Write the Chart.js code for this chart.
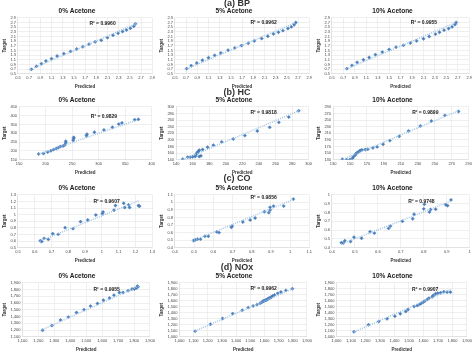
<!DOCTYPE html>
<html>
<head>
<meta charset="utf-8">
<script src="https://cdn.jsdelivr.net/npm/chart.js@4.4.0/dist/chart.umd.min.js"></script>
<style>
    body { margin: 0; width: 474px; height: 353px; background: #fff; position: relative; overflow: hidden; font-family: "Liberation Sans", Arial, sans-serif; }
    canvas { position: absolute; }
    .sec { position: absolute; left: 0; width: 474px; text-align: center; font-size: 9px; font-weight: bold; color: #333; z-index: 2; }
</style>
</head>
<body>
<canvas id="c0"></canvas><canvas id="c1"></canvas><canvas id="c2"></canvas>
<canvas id="c3"></canvas><canvas id="c4"></canvas><canvas id="c5"></canvas>
<canvas id="c6"></canvas><canvas id="c7"></canvas><canvas id="c8"></canvas>
<canvas id="c9"></canvas><canvas id="c10"></canvas><canvas id="c11"></canvas>
<div class="sec" style="top:-2px">(a) BP</div>
<div class="sec" style="top:87px">(b) HC</div>
<div class="sec" style="top:173px">(c) CO</div>
<div class="sec" style="top:262px">(d) NOx</div>
<script>
// ---- ticks ----
var bpTicks = [0.5, 0.7, 0.9, 1.1, 1.3, 1.5, 1.7, 1.9, 2.1, 2.3, 2.5, 2.7, 2.9];
var hc0Ticks = [150, 200, 250, 300, 350, 400];
var hc0YTicks = [150, 200, 250, 300, 350, 400, 450];
var hc5Ticks = [140, 160, 180, 200, 220, 240, 260, 280, 300];
var hc10Ticks = [130, 150, 170, 190, 210, 230, 250, 270, 290];
var co0Ticks = [0.5, 0.6, 0.7, 0.8, 0.9, 1, 1.1, 1.2, 1.3];
var co5Ticks = [0.4, 0.5, 0.6, 0.7, 0.8, 0.9, 1, 1.1];
var co10Ticks = [0.4, 0.5, 0.6, 0.7, 0.8, 0.9, 1];
var nox0Ticks = [1100, 1200, 1300, 1400, 1500, 1600, 1700, 1800, 1900];
var noxTicks = [1000, 1100, 1200, 1300, 1400, 1500, 1600, 1700, 1800, 1900];

// ---- BP ----
var bp0X = [0.74, 0.83, 0.92, 1.00, 1.10, 1.20, 1.32, 1.44, 1.55, 1.66, 1.77, 1.88, 1.99, 2.10, 2.20, 2.29, 2.37, 2.44, 2.51, 2.57, 2.60];
var bp0Y = [0.69, 0.82, 0.93, 1.05, 1.15, 1.26, 1.36, 1.46, 1.56, 1.66, 1.77, 1.87, 1.94, 2.05, 2.15, 2.24, 2.31, 2.38, 2.45, 2.54, 2.64];
var bp5X = [0.71, 0.79, 0.89, 0.99, 1.10, 1.21, 1.32, 1.45, 1.57, 1.69, 1.81, 1.92, 2.05, 2.16, 2.26, 2.35, 2.43, 2.52, 2.58, 2.63, 2.66];
var bp5Y = [0.72, 0.85, 0.96, 1.08, 1.19, 1.29, 1.39, 1.51, 1.61, 1.71, 1.81, 1.91, 2.01, 2.11, 2.21, 2.28, 2.35, 2.44, 2.51, 2.60, 2.70];
var bp10X = [0.76, 0.85, 0.94, 1.05, 1.15, 1.26, 1.38, 1.50, 1.62, 1.75, 1.87, 1.98, 2.10, 2.20, 2.31, 2.38, 2.46, 2.54, 2.60, 2.65, 2.67];
var bp10Y = [0.72, 0.86, 0.99, 1.10, 1.20, 1.32, 1.43, 1.54, 1.64, 1.72, 1.82, 1.91, 2.00, 2.10, 2.20, 2.28, 2.37, 2.44, 2.51, 2.61, 2.70];

// ---- HC ----
var hc0X = [187, 196, 204, 210, 215, 220, 224, 228, 233, 236, 238, 238, 252, 253, 253, 277, 278, 292, 310, 326, 338, 344, 368, 375];
var hc0Y = [183, 186, 194, 201, 208, 214, 219, 225, 228, 234, 246, 255, 261, 270, 277, 286, 295, 306, 319, 334, 352, 359, 377, 379];
var hc5X = [148, 154, 157, 160, 163, 164, 165, 166, 167, 168, 168, 170, 172, 178, 185, 195, 209, 223, 238, 253, 264, 276, 288];
var hc5Y = [142, 148, 148, 149, 150, 155, 160, 163, 166, 169, 150, 152, 171, 178, 184, 194, 203, 213, 227, 238, 253, 269, 288];
var hc10X = [141, 146, 150, 153, 154, 156, 157, 158, 160, 161, 162, 164, 168, 171, 177, 182, 189, 197, 208, 219, 233, 246, 262, 278];
var hc10Y = [132, 130, 131, 135, 139, 144, 148, 151, 154, 156, 158, 160, 161, 162, 166, 169, 177, 188, 201, 217, 232, 247, 264, 276];

// ---- CO ----
var co0X = [0.633, 0.642, 0.656, 0.681, 0.707, 0.740, 0.781, 0.828, 0.873, 0.916, 0.964, 1.003, 1.007, 1.072, 1.081, 1.130, 1.136, 1.159, 1.165, 1.218, 1.224];
var co0Y = [0.606, 0.596, 0.642, 0.627, 0.713, 0.703, 0.804, 0.789, 0.895, 0.920, 0.996, 1.016, 1.042, 1.067, 1.138, 1.173, 1.108, 1.148, 1.108, 1.138, 1.128];
var co5X = [0.497, 0.506, 0.517, 0.533, 0.556, 0.574, 0.618, 0.630, 0.694, 0.698, 0.754, 0.792, 0.818, 0.866, 0.889, 0.896, 0.896, 0.914, 0.967, 1.017];
var co5Y = [0.496, 0.505, 0.514, 0.514, 0.553, 0.553, 0.610, 0.601, 0.671, 0.684, 0.741, 0.767, 0.793, 0.877, 0.864, 0.899, 0.934, 0.951, 0.951, 1.043];
var co10X = [0.441, 0.449, 0.456, 0.481, 0.496, 0.529, 0.566, 0.585, 0.647, 0.655, 0.707, 0.752, 0.758, 0.800, 0.803, 0.825, 0.830, 0.852, 0.896, 0.904, 0.919];
var co10Y = [0.458, 0.454, 0.480, 0.472, 0.519, 0.508, 0.581, 0.566, 0.620, 0.646, 0.700, 0.729, 0.780, 0.841, 0.892, 0.805, 0.834, 0.837, 0.888, 0.877, 0.942];

// ---- NOx ----
var nox0X = [1226, 1285, 1339, 1388, 1439, 1486, 1527, 1571, 1608, 1646, 1674, 1708, 1731, 1763, 1787, 1802, 1815, 1821, 1825];
var nox0Y = [1196, 1267, 1349, 1392, 1459, 1502, 1555, 1593, 1641, 1674, 1717, 1756, 1756, 1784, 1808, 1808, 1822, 1851, 1842];
var nox5X = [1111, 1219, 1305, 1376, 1443, 1485, 1520, 1547, 1570, 1584, 1589, 1593, 1600, 1607, 1612, 1617, 1624, 1630, 1640, 1647, 1658, 1670, 1693, 1716, 1751, 1797];
var nox5Y = [1094, 1210, 1304, 1387, 1442, 1486, 1514, 1536, 1558, 1580, 1591, 1597, 1602, 1608, 1613, 1619, 1630, 1641, 1652, 1663, 1680, 1696, 1724, 1746, 1773, 1801];
var nox10X = [1121, 1221, 1292, 1349, 1403, 1440, 1478, 1494, 1535, 1558, 1576, 1585, 1599, 1608, 1626, 1638, 1661, 1667, 1683, 1699, 1718, 1740, 1763, 1786];
var nox10Y = [1083, 1200, 1256, 1300, 1344, 1383, 1422, 1456, 1506, 1522, 1544, 1561, 1578, 1594, 1622, 1644, 1667, 1689, 1717, 1728, 1733, 1750, 1744, 1744];

// ---- trend lines (start, end) ----
var trends = [
    [[0.72, 2.62], [0.68, 2.66]], [[0.71, 2.66], [0.71, 2.70]], [[0.75, 2.67], [0.70, 2.70]],
    [[187, 375], [182, 378]], [[148, 290], [140, 290]], [[142, 278], [132, 278]],
    [[0.63, 1.22], [0.60, 1.21]], [[0.49, 1.02], [0.49, 1.04]], [[0.44, 0.92], [0.44, 0.93]],
    [[1220, 1830], [1200, 1850]], [[1110, 1800], [1095, 1800]], [[1120, 1790], [1080, 1790]]
];
var r2Labels = ['R² = 0.9960', 'R² = 0.9962', 'R² = 0.9955', 'R² = 0.9829', 'R² = 0.9818', 'R² = 0.9899',
    'R² = 0.9607', 'R² = 0.9856', 'R² = 0.9748', 'R² = 0.9955', 'R² = 0.9962', 'R² = 0.9907'];
var titles = ['0% Acetone', '5% Acetone', '10% Acetone'];

// layout of the grid (canvas boxes) and label spots inside plot area
var colLeft = [0, 157, 314], colWidth = [157, 157, 160];
var rowTop = [7, 96, 184, 272], rowHeight = [83, 80, 80, 81];
var r2Pos = [[.63, .11], [.66, .09], [.67, .09], [.64, .18], [.66, .11], [.68, .11],
    [.66, .12], [.66, .06], [.65, .13], [.66, .12], [.66, .11], [.68, .12]];

var panels = [
    {x: bp0X, y: bp0Y, tx: bpTicks, ty: bpTicks, dec: 1},
    {x: bp5X, y: bp5Y, tx: bpTicks, ty: bpTicks, dec: 1},
    {x: bp10X, y: bp10Y, tx: bpTicks, ty: bpTicks, dec: 1},
    {x: hc0X, y: hc0Y, tx: hc0Ticks, ty: hc0YTicks},
    {x: hc5X, y: hc5Y, tx: hc5Ticks, ty: hc5Ticks},
    {x: hc10X, y: hc10Y, tx: hc10Ticks, ty: hc10Ticks},
    {x: co0X, y: co0Y, tx: co0Ticks, ty: co0Ticks},
    {x: co5X, y: co5Y, tx: co5Ticks, ty: co5Ticks},
    {x: co10X, y: co10Y, tx: co10Ticks, ty: co10Ticks},
    {x: nox0X, y: nox0Y, tx: nox0Ticks, ty: nox0Ticks},
    {x: nox5X, y: nox5Y, tx: noxTicks, ty: noxTicks},
    {x: nox10X, y: nox10Y, tx: noxTicks, ty: noxTicks}
];

// ghi chữ R² trong vùng vẽ
var r2Plugin = {
    id: 'r2text',
    afterDatasetsDraw: function (chart, args, opts) {
        var a = chart.chartArea, ctx = chart.ctx;
        ctx.save();
        ctx.font = 'bold 5px "Liberation Sans", Arial';
        ctx.fillStyle = '#222';
        ctx.textAlign = 'center';
        ctx.textBaseline = 'middle';
        ctx.fillText(opts.text, a.left + a.width * opts.fx, a.top + a.height * opts.fy);
        ctx.restore();
    }
};

function axis(ticks, dec, titleText) {
    return {
        type: 'linear',
        min: ticks[0],
        max: ticks[ticks.length - 1],
        afterBuildTicks: function (ax) {
            ax.ticks = ticks.map(function (v) { return {value: v}; });
        },
        grid: {color: '#e4e4e4', lineWidth: 0.6, tickLength: 0, drawTicks: false},
        border: {color: '#d9d9d9', width: 0.6},
        ticks: {
            font: {size: 4, family: '"Liberation Sans", Arial'},
            color: '#444',
            padding: 2,
            autoSkip: false,
            maxRotation: 0,
            callback: function (v) {
                return dec ? v.toFixed(dec) : v.toLocaleString('en-US');
            }
        },
        title: {
            display: true,
            text: titleText,
            font: {size: 4.5, weight: 'bold', family: '"Liberation Sans", Arial'},
            color: '#333',
            padding: {top: 1, bottom: 1}
        }
    };
}

panels.forEach(function (p, i) {
    var col = i % 3, row = Math.floor(i / 3);
    var cv = document.getElementById('c' + i);
    cv.width = colWidth[col];
    cv.height = rowHeight[row];
    cv.style.left = colLeft[col] + 'px';
    cv.style.top = rowTop[row] + 'px';

    var pts = p.x.map(function (v, k) { return {x: v, y: p.y[k]}; });
    var t = trends[i];
    new Chart(cv, {
        type: 'scatter',
        data: {
            datasets: [{
                type: 'line',
                data: [{x: t[0][0], y: t[1][0]}, {x: t[0][1], y: t[1][1]}],
                borderColor: '#9dc3e6',
                borderWidth: 1.4,
                borderDash: [1, 1.2],
                pointRadius: 0,
                fill: false
            }, {
                data: pts,
                pointStyle: 'rectRot',
                pointRadius: 1.7,
                backgroundColor: '#4a7ebb',
                borderColor: '#4a7ebb',
                borderWidth: 0.4
            }]
        },
        options: {
            responsive: false,
            animation: false,
            layout: {padding: {left: 1, right: 4, top: 0, bottom: 0}},
            plugins: {
                legend: {display: false},
                tooltip: {enabled: false},
                title: {
                    display: true,
                    text: titles[col],
                    font: {size: 6.5, weight: 'bold', family: '"Liberation Sans", Arial'},
                    color: '#222',
                    padding: {top: 0, bottom: 3}
                },
                r2text: {text: r2Labels[i], fx: r2Pos[i][0], fy: r2Pos[i][1]}
            },
            scales: {
                x: axis(p.tx, p.dec, 'Predicted'),
                y: axis(p.ty, p.dec, 'Target')
            }
        },
        plugins: [r2Plugin]
    });
});
</script>
</body>
</html>
